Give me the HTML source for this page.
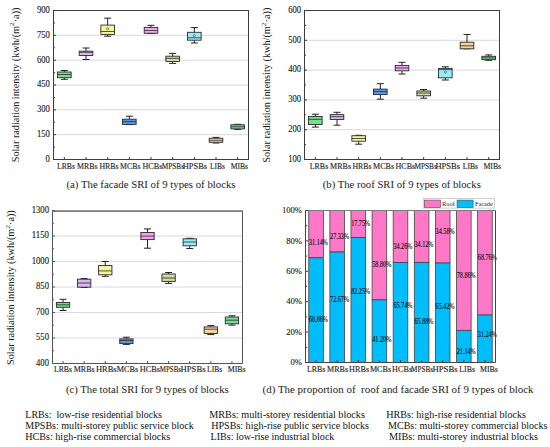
<!DOCTYPE html><html><head><meta charset="utf-8"><style>html,body{margin:0;padding:0;background:#fff;}svg{display:block;}text{font-family:"Liberation Serif",serif;}</style></head><body>
<svg width="550" height="447" viewBox="0 0 550 447">
<rect width="550" height="447" fill="#fff"/>
<line x1="53.5" y1="134.67" x2="248.5" y2="134.67" stroke="#d9d9d9" stroke-width="1"/>
<line x1="53.5" y1="109.83" x2="248.5" y2="109.83" stroke="#d9d9d9" stroke-width="1"/>
<line x1="53.5" y1="85" x2="248.5" y2="85" stroke="#d9d9d9" stroke-width="1"/>
<line x1="53.5" y1="60.17" x2="248.5" y2="60.17" stroke="#d9d9d9" stroke-width="1"/>
<line x1="53.5" y1="35.33" x2="248.5" y2="35.33" stroke="#d9d9d9" stroke-width="1"/>
<line x1="64.33" y1="70.5" x2="64.33" y2="72" stroke="#222" stroke-width="1"/>
<line x1="64.33" y1="77.7" x2="64.33" y2="79.3" stroke="#222" stroke-width="1"/>
<line x1="60.83" y1="70.5" x2="67.83" y2="70.5" stroke="#222" stroke-width="1"/>
<line x1="60.83" y1="79.3" x2="67.83" y2="79.3" stroke="#222" stroke-width="1"/>
<rect x="57.53" y="72" width="13.6" height="5.7" fill="#72e08e" stroke="#2a2a2a" stroke-width="0.9"/>
<line x1="57.53" y1="74.5" x2="71.13" y2="74.5" stroke="#2a2a2a" stroke-width="0.8"/>
<line x1="86" y1="48" x2="86" y2="51.2" stroke="#222" stroke-width="1"/>
<line x1="86" y1="55.5" x2="86" y2="59.5" stroke="#222" stroke-width="1"/>
<line x1="82.5" y1="48" x2="89.5" y2="48" stroke="#222" stroke-width="1"/>
<line x1="82.5" y1="59.5" x2="89.5" y2="59.5" stroke="#222" stroke-width="1"/>
<rect x="79.2" y="51.2" width="13.6" height="4.3" fill="#d9b6f2" stroke="#2a2a2a" stroke-width="0.9"/>
<line x1="79.2" y1="52.3" x2="92.8" y2="52.3" stroke="#2a2a2a" stroke-width="0.8"/>
<line x1="107.67" y1="18.2" x2="107.67" y2="25.1" stroke="#222" stroke-width="1"/>
<line x1="107.67" y1="34.4" x2="107.67" y2="36.2" stroke="#222" stroke-width="1"/>
<line x1="104.17" y1="18.2" x2="111.17" y2="18.2" stroke="#222" stroke-width="1"/>
<line x1="104.17" y1="36.2" x2="111.17" y2="36.2" stroke="#222" stroke-width="1"/>
<rect x="100.87" y="25.1" width="13.6" height="9.3" fill="#f7f49c" stroke="#2a2a2a" stroke-width="0.9"/>
<line x1="100.87" y1="31.5" x2="114.47" y2="31.5" stroke="#2a2a2a" stroke-width="0.8"/>
<circle cx="107.67" cy="28.8" r="1.1" fill="none" stroke="#444" stroke-width="0.6"/>
<line x1="129.33" y1="116.2" x2="129.33" y2="119.2" stroke="#222" stroke-width="1"/>
<line x1="129.33" y1="124.4" x2="129.33" y2="124.6" stroke="#222" stroke-width="1"/>
<line x1="125.83" y1="116.2" x2="132.83" y2="116.2" stroke="#222" stroke-width="1"/>
<line x1="125.83" y1="124.6" x2="132.83" y2="124.6" stroke="#222" stroke-width="1"/>
<rect x="122.53" y="119.2" width="13.6" height="5.2" fill="#5c98ea" stroke="#2a2a2a" stroke-width="0.9"/>
<line x1="122.53" y1="121.6" x2="136.13" y2="121.6" stroke="#2a2a2a" stroke-width="0.8"/>
<line x1="151" y1="25.3" x2="151" y2="27.4" stroke="#222" stroke-width="1"/>
<line x1="151" y1="33.3" x2="151" y2="33.5" stroke="#222" stroke-width="1"/>
<line x1="147.5" y1="25.3" x2="154.5" y2="25.3" stroke="#222" stroke-width="1"/>
<line x1="147.5" y1="33.5" x2="154.5" y2="33.5" stroke="#222" stroke-width="1"/>
<rect x="144.2" y="27.4" width="13.6" height="5.9" fill="#f5a2f3" stroke="#2a2a2a" stroke-width="0.9"/>
<line x1="144.2" y1="30.5" x2="157.8" y2="30.5" stroke="#2a2a2a" stroke-width="0.8"/>
<line x1="172.67" y1="53.4" x2="172.67" y2="56.2" stroke="#222" stroke-width="1"/>
<line x1="172.67" y1="61.5" x2="172.67" y2="63.4" stroke="#222" stroke-width="1"/>
<line x1="169.17" y1="53.4" x2="176.17" y2="53.4" stroke="#222" stroke-width="1"/>
<line x1="169.17" y1="63.4" x2="176.17" y2="63.4" stroke="#222" stroke-width="1"/>
<rect x="165.87" y="56.2" width="13.6" height="5.3" fill="#cddca2" stroke="#2a2a2a" stroke-width="0.9"/>
<line x1="165.87" y1="58.4" x2="179.47" y2="58.4" stroke="#2a2a2a" stroke-width="0.8"/>
<line x1="194.33" y1="27.6" x2="194.33" y2="32.3" stroke="#222" stroke-width="1"/>
<line x1="194.33" y1="40.2" x2="194.33" y2="43" stroke="#222" stroke-width="1"/>
<line x1="190.83" y1="27.6" x2="197.83" y2="27.6" stroke="#222" stroke-width="1"/>
<line x1="190.83" y1="43" x2="197.83" y2="43" stroke="#222" stroke-width="1"/>
<rect x="187.53" y="32.3" width="13.6" height="7.9" fill="#98eef8" stroke="#2a2a2a" stroke-width="0.9"/>
<line x1="187.53" y1="37.8" x2="201.13" y2="37.8" stroke="#2a2a2a" stroke-width="0.8"/>
<circle cx="194.33" cy="35.6" r="1.1" fill="none" stroke="#444" stroke-width="0.6"/>
<line x1="216" y1="137.4" x2="216" y2="138.2" stroke="#222" stroke-width="1"/>
<line x1="216" y1="142.3" x2="216" y2="143" stroke="#222" stroke-width="1"/>
<line x1="212.5" y1="137.4" x2="219.5" y2="137.4" stroke="#222" stroke-width="1"/>
<line x1="212.5" y1="143" x2="219.5" y2="143" stroke="#222" stroke-width="1"/>
<rect x="209.2" y="138.2" width="13.6" height="4.1" fill="#f8d09c" stroke="#2a2a2a" stroke-width="0.9"/>
<line x1="209.2" y1="140.3" x2="222.8" y2="140.3" stroke="#2a2a2a" stroke-width="0.8"/>
<line x1="237.67" y1="124.3" x2="237.67" y2="124.8" stroke="#222" stroke-width="1"/>
<line x1="237.67" y1="128.9" x2="237.67" y2="129.4" stroke="#222" stroke-width="1"/>
<line x1="234.17" y1="124.3" x2="241.17" y2="124.3" stroke="#222" stroke-width="1"/>
<line x1="234.17" y1="129.4" x2="241.17" y2="129.4" stroke="#222" stroke-width="1"/>
<rect x="230.87" y="124.8" width="13.6" height="4.1" fill="#72e08e" stroke="#2a2a2a" stroke-width="0.9"/>
<line x1="230.87" y1="126.8" x2="244.47" y2="126.8" stroke="#2a2a2a" stroke-width="0.8"/>
<rect x="53.5" y="10.5" width="195" height="149" fill="none" stroke="#3c3c3c" stroke-width="1"/>
<line x1="53.5" y1="159.5" x2="56" y2="159.5" stroke="#3c3c3c" stroke-width="1"/>
<text x="49.9" y="161.9" font-size="9.3" text-anchor="end" fill="#1a1a1a" stroke="#1a1a1a" stroke-width="0.12" textLength="4.33" lengthAdjust="spacingAndGlyphs">0</text>
<line x1="53.5" y1="134.67" x2="56" y2="134.67" stroke="#3c3c3c" stroke-width="1"/>
<text x="49.9" y="137.07" font-size="9.3" text-anchor="end" fill="#1a1a1a" stroke="#1a1a1a" stroke-width="0.12" textLength="12.99" lengthAdjust="spacingAndGlyphs">150</text>
<line x1="53.5" y1="109.83" x2="56" y2="109.83" stroke="#3c3c3c" stroke-width="1"/>
<text x="49.9" y="112.23" font-size="9.3" text-anchor="end" fill="#1a1a1a" stroke="#1a1a1a" stroke-width="0.12" textLength="12.99" lengthAdjust="spacingAndGlyphs">300</text>
<line x1="53.5" y1="85" x2="56" y2="85" stroke="#3c3c3c" stroke-width="1"/>
<text x="49.9" y="87.4" font-size="9.3" text-anchor="end" fill="#1a1a1a" stroke="#1a1a1a" stroke-width="0.12" textLength="12.99" lengthAdjust="spacingAndGlyphs">450</text>
<line x1="53.5" y1="60.17" x2="56" y2="60.17" stroke="#3c3c3c" stroke-width="1"/>
<text x="49.9" y="62.57" font-size="9.3" text-anchor="end" fill="#1a1a1a" stroke="#1a1a1a" stroke-width="0.12" textLength="12.99" lengthAdjust="spacingAndGlyphs">600</text>
<line x1="53.5" y1="35.33" x2="56" y2="35.33" stroke="#3c3c3c" stroke-width="1"/>
<text x="49.9" y="37.73" font-size="9.3" text-anchor="end" fill="#1a1a1a" stroke="#1a1a1a" stroke-width="0.12" textLength="12.99" lengthAdjust="spacingAndGlyphs">750</text>
<line x1="53.5" y1="10.5" x2="56" y2="10.5" stroke="#3c3c3c" stroke-width="1"/>
<text x="49.9" y="12.9" font-size="9.3" text-anchor="end" fill="#1a1a1a" stroke="#1a1a1a" stroke-width="0.12" textLength="12.99" lengthAdjust="spacingAndGlyphs">900</text>
<line x1="53.5" y1="147.08" x2="55" y2="147.08" stroke="#3c3c3c" stroke-width="1"/>
<line x1="53.5" y1="122.25" x2="55" y2="122.25" stroke="#3c3c3c" stroke-width="1"/>
<line x1="53.5" y1="97.42" x2="55" y2="97.42" stroke="#3c3c3c" stroke-width="1"/>
<line x1="53.5" y1="72.58" x2="55" y2="72.58" stroke="#3c3c3c" stroke-width="1"/>
<line x1="53.5" y1="47.75" x2="55" y2="47.75" stroke="#3c3c3c" stroke-width="1"/>
<line x1="53.5" y1="22.92" x2="55" y2="22.92" stroke="#3c3c3c" stroke-width="1"/>
<line x1="64.33" y1="159.5" x2="64.33" y2="157" stroke="#3c3c3c" stroke-width="1"/>
<line x1="86" y1="159.5" x2="86" y2="157" stroke="#3c3c3c" stroke-width="1"/>
<line x1="107.67" y1="159.5" x2="107.67" y2="157" stroke="#3c3c3c" stroke-width="1"/>
<line x1="129.33" y1="159.5" x2="129.33" y2="157" stroke="#3c3c3c" stroke-width="1"/>
<line x1="151" y1="159.5" x2="151" y2="157" stroke="#3c3c3c" stroke-width="1"/>
<line x1="172.67" y1="159.5" x2="172.67" y2="157" stroke="#3c3c3c" stroke-width="1"/>
<line x1="194.33" y1="159.5" x2="194.33" y2="157" stroke="#3c3c3c" stroke-width="1"/>
<line x1="216" y1="159.5" x2="216" y2="157" stroke="#3c3c3c" stroke-width="1"/>
<line x1="237.67" y1="159.5" x2="237.67" y2="157" stroke="#3c3c3c" stroke-width="1"/>
<text x="56.9" y="168.6" font-size="7.8" text-anchor="start" fill="#222" stroke="#222" stroke-width="0.12" textLength="18.2" lengthAdjust="spacingAndGlyphs">LRBs</text>
<text x="77.1" y="168.6" font-size="7.8" text-anchor="start" fill="#222" stroke="#222" stroke-width="0.12" textLength="20.5" lengthAdjust="spacingAndGlyphs">MRBs</text>
<text x="99.4" y="168.6" font-size="7.8" text-anchor="start" fill="#222" stroke="#222" stroke-width="0.12" textLength="19.2" lengthAdjust="spacingAndGlyphs">HRBs</text>
<text x="120.1" y="168.6" font-size="7.8" text-anchor="start" fill="#222" stroke="#222" stroke-width="0.12" textLength="20.5" lengthAdjust="spacingAndGlyphs">MCBs</text>
<text x="142.4" y="168.6" font-size="7.8" text-anchor="start" fill="#222" stroke="#222" stroke-width="0.12" textLength="20" lengthAdjust="spacingAndGlyphs">HCBs</text>
<text x="161.7" y="168.6" font-size="7.8" text-anchor="start" fill="#222" stroke="#222" stroke-width="0.12" textLength="22.4" lengthAdjust="spacingAndGlyphs">MPSBs</text>
<text x="182.7" y="168.6" font-size="7.8" text-anchor="start" fill="#222" stroke="#222" stroke-width="0.12" textLength="24.4" lengthAdjust="spacingAndGlyphs">HPSBs</text>
<text x="209.9" y="168.6" font-size="7.8" text-anchor="start" fill="#222" stroke="#222" stroke-width="0.12" textLength="15.2" lengthAdjust="spacingAndGlyphs">LIBs</text>
<text x="230.7" y="168.6" font-size="7.8" text-anchor="start" fill="#222" stroke="#222" stroke-width="0.12" textLength="17.4" lengthAdjust="spacingAndGlyphs">MIBs</text>
<text transform="translate(18.6,162.3) rotate(-90)" font-size="9.7" fill="#1a1a1a" textLength="154.8" lengthAdjust="spacingAndGlyphs">Solar radiation intensity (kwh/(m<tspan font-size="7" dy="-4.2">2</tspan><tspan dy="4.2">·a))</tspan></text>
<text x="151" y="188.1" font-size="10.7" text-anchor="middle" fill="#222" textLength="169" lengthAdjust="spacingAndGlyphs">(a) The facade SRI of 9 types of blocks</text>
<line x1="304.5" y1="129.7" x2="499.5" y2="129.7" stroke="#d9d9d9" stroke-width="1"/>
<line x1="304.5" y1="99.9" x2="499.5" y2="99.9" stroke="#d9d9d9" stroke-width="1"/>
<line x1="304.5" y1="70.1" x2="499.5" y2="70.1" stroke="#d9d9d9" stroke-width="1"/>
<line x1="304.5" y1="40.3" x2="499.5" y2="40.3" stroke="#d9d9d9" stroke-width="1"/>
<line x1="315.33" y1="114.2" x2="315.33" y2="116.5" stroke="#222" stroke-width="1"/>
<line x1="315.33" y1="124.5" x2="315.33" y2="127.1" stroke="#222" stroke-width="1"/>
<line x1="311.83" y1="114.2" x2="318.83" y2="114.2" stroke="#222" stroke-width="1"/>
<line x1="311.83" y1="127.1" x2="318.83" y2="127.1" stroke="#222" stroke-width="1"/>
<rect x="308.53" y="116.5" width="13.6" height="8" fill="#72e08e" stroke="#2a2a2a" stroke-width="0.9"/>
<line x1="308.53" y1="119.3" x2="322.13" y2="119.3" stroke="#2a2a2a" stroke-width="0.8"/>
<line x1="337" y1="112.3" x2="337" y2="114.6" stroke="#222" stroke-width="1"/>
<line x1="337" y1="119.5" x2="337" y2="125.2" stroke="#222" stroke-width="1"/>
<line x1="333.5" y1="112.3" x2="340.5" y2="112.3" stroke="#222" stroke-width="1"/>
<line x1="333.5" y1="125.2" x2="340.5" y2="125.2" stroke="#222" stroke-width="1"/>
<rect x="330.2" y="114.6" width="13.6" height="4.9" fill="#d9b6f2" stroke="#2a2a2a" stroke-width="0.9"/>
<line x1="330.2" y1="116.7" x2="343.8" y2="116.7" stroke="#2a2a2a" stroke-width="0.8"/>
<line x1="358.67" y1="135.3" x2="358.67" y2="135.7" stroke="#222" stroke-width="1"/>
<line x1="358.67" y1="141.2" x2="358.67" y2="144.2" stroke="#222" stroke-width="1"/>
<line x1="355.17" y1="135.3" x2="362.17" y2="135.3" stroke="#222" stroke-width="1"/>
<line x1="355.17" y1="144.2" x2="362.17" y2="144.2" stroke="#222" stroke-width="1"/>
<rect x="351.87" y="135.7" width="13.6" height="5.5" fill="#f7f49c" stroke="#2a2a2a" stroke-width="0.9"/>
<line x1="351.87" y1="138.5" x2="365.47" y2="138.5" stroke="#2a2a2a" stroke-width="0.8"/>
<line x1="380.33" y1="83.7" x2="380.33" y2="89.1" stroke="#222" stroke-width="1"/>
<line x1="380.33" y1="94.6" x2="380.33" y2="99.2" stroke="#222" stroke-width="1"/>
<line x1="376.83" y1="83.7" x2="383.83" y2="83.7" stroke="#222" stroke-width="1"/>
<line x1="376.83" y1="99.2" x2="383.83" y2="99.2" stroke="#222" stroke-width="1"/>
<rect x="373.53" y="89.1" width="13.6" height="5.5" fill="#5c98ea" stroke="#2a2a2a" stroke-width="0.9"/>
<line x1="373.53" y1="91.6" x2="387.13" y2="91.6" stroke="#2a2a2a" stroke-width="0.8"/>
<line x1="402" y1="62.3" x2="402" y2="65.4" stroke="#222" stroke-width="1"/>
<line x1="402" y1="70.8" x2="402" y2="74" stroke="#222" stroke-width="1"/>
<line x1="398.5" y1="62.3" x2="405.5" y2="62.3" stroke="#222" stroke-width="1"/>
<line x1="398.5" y1="74" x2="405.5" y2="74" stroke="#222" stroke-width="1"/>
<rect x="395.2" y="65.4" width="13.6" height="5.4" fill="#f5a2f3" stroke="#2a2a2a" stroke-width="0.9"/>
<line x1="395.2" y1="68" x2="408.8" y2="68" stroke="#2a2a2a" stroke-width="0.8"/>
<line x1="423.67" y1="89.5" x2="423.67" y2="91" stroke="#222" stroke-width="1"/>
<line x1="423.67" y1="95.8" x2="423.67" y2="98.2" stroke="#222" stroke-width="1"/>
<line x1="420.17" y1="89.5" x2="427.17" y2="89.5" stroke="#222" stroke-width="1"/>
<line x1="420.17" y1="98.2" x2="427.17" y2="98.2" stroke="#222" stroke-width="1"/>
<rect x="416.87" y="91" width="13.6" height="4.8" fill="#cddca2" stroke="#2a2a2a" stroke-width="0.9"/>
<line x1="416.87" y1="93" x2="430.47" y2="93" stroke="#2a2a2a" stroke-width="0.8"/>
<line x1="445.33" y1="66.8" x2="445.33" y2="68.4" stroke="#222" stroke-width="1"/>
<line x1="445.33" y1="77.8" x2="445.33" y2="80" stroke="#222" stroke-width="1"/>
<line x1="441.83" y1="66.8" x2="448.83" y2="66.8" stroke="#222" stroke-width="1"/>
<line x1="441.83" y1="80" x2="448.83" y2="80" stroke="#222" stroke-width="1"/>
<rect x="438.53" y="68.4" width="13.6" height="9.4" fill="#98eef8" stroke="#2a2a2a" stroke-width="0.9"/>
<line x1="438.53" y1="69.6" x2="452.13" y2="69.6" stroke="#2a2a2a" stroke-width="0.8"/>
<circle cx="445.33" cy="72" r="1.1" fill="none" stroke="#444" stroke-width="0.6"/>
<line x1="467" y1="34.5" x2="467" y2="42.2" stroke="#222" stroke-width="1"/>
<line x1="467" y1="48.8" x2="467" y2="48.8" stroke="#222" stroke-width="1"/>
<line x1="463.5" y1="34.5" x2="470.5" y2="34.5" stroke="#222" stroke-width="1"/>
<line x1="463.5" y1="48.8" x2="470.5" y2="48.8" stroke="#222" stroke-width="1"/>
<rect x="460.2" y="42.2" width="13.6" height="6.6" fill="#f8d09c" stroke="#2a2a2a" stroke-width="0.9"/>
<line x1="460.2" y1="45.8" x2="473.8" y2="45.8" stroke="#2a2a2a" stroke-width="0.8"/>
<line x1="488.67" y1="54.9" x2="488.67" y2="56.3" stroke="#222" stroke-width="1"/>
<line x1="488.67" y1="59.7" x2="488.67" y2="60.3" stroke="#222" stroke-width="1"/>
<line x1="485.17" y1="54.9" x2="492.17" y2="54.9" stroke="#222" stroke-width="1"/>
<line x1="485.17" y1="60.3" x2="492.17" y2="60.3" stroke="#222" stroke-width="1"/>
<rect x="481.87" y="56.3" width="13.6" height="3.4" fill="#72e08e" stroke="#2a2a2a" stroke-width="0.9"/>
<line x1="481.87" y1="57.9" x2="495.47" y2="57.9" stroke="#2a2a2a" stroke-width="0.8"/>
<rect x="304.5" y="10.5" width="195" height="149" fill="none" stroke="#3c3c3c" stroke-width="1"/>
<line x1="304.5" y1="159.5" x2="307" y2="159.5" stroke="#3c3c3c" stroke-width="1"/>
<text x="301.2" y="161.8" font-size="9.3" text-anchor="end" fill="#1a1a1a" stroke="#1a1a1a" stroke-width="0.12" textLength="12.99" lengthAdjust="spacingAndGlyphs">100</text>
<line x1="304.5" y1="129.7" x2="307" y2="129.7" stroke="#3c3c3c" stroke-width="1"/>
<text x="301.2" y="132" font-size="9.3" text-anchor="end" fill="#1a1a1a" stroke="#1a1a1a" stroke-width="0.12" textLength="12.99" lengthAdjust="spacingAndGlyphs">200</text>
<line x1="304.5" y1="99.9" x2="307" y2="99.9" stroke="#3c3c3c" stroke-width="1"/>
<text x="301.2" y="102.2" font-size="9.3" text-anchor="end" fill="#1a1a1a" stroke="#1a1a1a" stroke-width="0.12" textLength="12.99" lengthAdjust="spacingAndGlyphs">300</text>
<line x1="304.5" y1="70.1" x2="307" y2="70.1" stroke="#3c3c3c" stroke-width="1"/>
<text x="301.2" y="72.4" font-size="9.3" text-anchor="end" fill="#1a1a1a" stroke="#1a1a1a" stroke-width="0.12" textLength="12.99" lengthAdjust="spacingAndGlyphs">400</text>
<line x1="304.5" y1="40.3" x2="307" y2="40.3" stroke="#3c3c3c" stroke-width="1"/>
<text x="301.2" y="42.6" font-size="9.3" text-anchor="end" fill="#1a1a1a" stroke="#1a1a1a" stroke-width="0.12" textLength="12.99" lengthAdjust="spacingAndGlyphs">500</text>
<line x1="304.5" y1="10.5" x2="307" y2="10.5" stroke="#3c3c3c" stroke-width="1"/>
<text x="301.2" y="12.8" font-size="9.3" text-anchor="end" fill="#1a1a1a" stroke="#1a1a1a" stroke-width="0.12" textLength="12.99" lengthAdjust="spacingAndGlyphs">600</text>
<line x1="304.5" y1="144.6" x2="306" y2="144.6" stroke="#3c3c3c" stroke-width="1"/>
<line x1="304.5" y1="114.8" x2="306" y2="114.8" stroke="#3c3c3c" stroke-width="1"/>
<line x1="304.5" y1="85" x2="306" y2="85" stroke="#3c3c3c" stroke-width="1"/>
<line x1="304.5" y1="55.2" x2="306" y2="55.2" stroke="#3c3c3c" stroke-width="1"/>
<line x1="304.5" y1="25.4" x2="306" y2="25.4" stroke="#3c3c3c" stroke-width="1"/>
<line x1="315.33" y1="159.5" x2="315.33" y2="157" stroke="#3c3c3c" stroke-width="1"/>
<line x1="337" y1="159.5" x2="337" y2="157" stroke="#3c3c3c" stroke-width="1"/>
<line x1="358.67" y1="159.5" x2="358.67" y2="157" stroke="#3c3c3c" stroke-width="1"/>
<line x1="380.33" y1="159.5" x2="380.33" y2="157" stroke="#3c3c3c" stroke-width="1"/>
<line x1="402" y1="159.5" x2="402" y2="157" stroke="#3c3c3c" stroke-width="1"/>
<line x1="423.67" y1="159.5" x2="423.67" y2="157" stroke="#3c3c3c" stroke-width="1"/>
<line x1="445.33" y1="159.5" x2="445.33" y2="157" stroke="#3c3c3c" stroke-width="1"/>
<line x1="467" y1="159.5" x2="467" y2="157" stroke="#3c3c3c" stroke-width="1"/>
<line x1="488.67" y1="159.5" x2="488.67" y2="157" stroke="#3c3c3c" stroke-width="1"/>
<text x="309.7" y="168.6" font-size="7.8" text-anchor="start" fill="#222" stroke="#222" stroke-width="0.12" textLength="18.6" lengthAdjust="spacingAndGlyphs">LRBs</text>
<text x="330.1" y="168.6" font-size="7.8" text-anchor="start" fill="#222" stroke="#222" stroke-width="0.12" textLength="21" lengthAdjust="spacingAndGlyphs">MRBs</text>
<text x="352.4" y="168.6" font-size="7.8" text-anchor="start" fill="#222" stroke="#222" stroke-width="0.12" textLength="19.2" lengthAdjust="spacingAndGlyphs">HRBs</text>
<text x="373.1" y="168.6" font-size="7.8" text-anchor="start" fill="#222" stroke="#222" stroke-width="0.12" textLength="21" lengthAdjust="spacingAndGlyphs">MCBs</text>
<text x="395.4" y="168.6" font-size="7.8" text-anchor="start" fill="#222" stroke="#222" stroke-width="0.12" textLength="19.9" lengthAdjust="spacingAndGlyphs">HCBs</text>
<text x="414.4" y="168.6" font-size="7.8" text-anchor="start" fill="#222" stroke="#222" stroke-width="0.12" textLength="22.5" lengthAdjust="spacingAndGlyphs">MPSBs</text>
<text x="435.4" y="168.6" font-size="7.8" text-anchor="start" fill="#222" stroke="#222" stroke-width="0.12" textLength="24.7" lengthAdjust="spacingAndGlyphs">HPSBs</text>
<text x="462.7" y="168.6" font-size="7.8" text-anchor="start" fill="#222" stroke="#222" stroke-width="0.12" textLength="15.4" lengthAdjust="spacingAndGlyphs">LIBs</text>
<text x="483.4" y="168.6" font-size="7.8" text-anchor="start" fill="#222" stroke="#222" stroke-width="0.12" textLength="17.7" lengthAdjust="spacingAndGlyphs">MIBs</text>
<text transform="translate(270.3,162.8) rotate(-90)" font-size="9.7" fill="#1a1a1a" textLength="155.2" lengthAdjust="spacingAndGlyphs">Solar radiation intensity (kwh/(m<tspan font-size="7" dy="-4.2">2</tspan><tspan dy="4.2">·a))</tspan></text>
<text x="401.8" y="188.3" font-size="10.7" text-anchor="middle" fill="#222" textLength="158" lengthAdjust="spacingAndGlyphs">(b) The roof SRI of 9 types of blocks</text>
<line x1="52.5" y1="338" x2="242.5" y2="338" stroke="#d9d9d9" stroke-width="1"/>
<line x1="52.5" y1="312.5" x2="242.5" y2="312.5" stroke="#d9d9d9" stroke-width="1"/>
<line x1="52.5" y1="287" x2="242.5" y2="287" stroke="#d9d9d9" stroke-width="1"/>
<line x1="52.5" y1="261.5" x2="242.5" y2="261.5" stroke="#d9d9d9" stroke-width="1"/>
<line x1="52.5" y1="236" x2="242.5" y2="236" stroke="#d9d9d9" stroke-width="1"/>
<line x1="63.06" y1="299.3" x2="63.06" y2="302.5" stroke="#222" stroke-width="1"/>
<line x1="63.06" y1="307.3" x2="63.06" y2="310.5" stroke="#222" stroke-width="1"/>
<line x1="59.56" y1="299.3" x2="66.56" y2="299.3" stroke="#222" stroke-width="1"/>
<line x1="59.56" y1="310.5" x2="66.56" y2="310.5" stroke="#222" stroke-width="1"/>
<rect x="56.41" y="302.5" width="13.3" height="4.8" fill="#72e08e" stroke="#2a2a2a" stroke-width="0.9"/>
<line x1="56.41" y1="304.8" x2="69.71" y2="304.8" stroke="#2a2a2a" stroke-width="0.8"/>
<line x1="84.17" y1="278.6" x2="84.17" y2="279.2" stroke="#222" stroke-width="1"/>
<line x1="84.17" y1="287.2" x2="84.17" y2="287.5" stroke="#222" stroke-width="1"/>
<line x1="80.67" y1="278.6" x2="87.67" y2="278.6" stroke="#222" stroke-width="1"/>
<line x1="80.67" y1="287.5" x2="87.67" y2="287.5" stroke="#222" stroke-width="1"/>
<rect x="77.52" y="279.2" width="13.3" height="8" fill="#d9b6f2" stroke="#2a2a2a" stroke-width="0.9"/>
<line x1="77.52" y1="283" x2="90.82" y2="283" stroke="#2a2a2a" stroke-width="0.8"/>
<line x1="105.28" y1="261.5" x2="105.28" y2="265.5" stroke="#222" stroke-width="1"/>
<line x1="105.28" y1="274.8" x2="105.28" y2="276.3" stroke="#222" stroke-width="1"/>
<line x1="101.78" y1="261.5" x2="108.78" y2="261.5" stroke="#222" stroke-width="1"/>
<line x1="101.78" y1="276.3" x2="108.78" y2="276.3" stroke="#222" stroke-width="1"/>
<rect x="98.63" y="265.5" width="13.3" height="9.3" fill="#f7f49c" stroke="#2a2a2a" stroke-width="0.9"/>
<line x1="98.63" y1="270.9" x2="111.93" y2="270.9" stroke="#2a2a2a" stroke-width="0.8"/>
<line x1="126.39" y1="337.2" x2="126.39" y2="338.9" stroke="#222" stroke-width="1"/>
<line x1="126.39" y1="343.6" x2="126.39" y2="344.4" stroke="#222" stroke-width="1"/>
<line x1="122.89" y1="337.2" x2="129.89" y2="337.2" stroke="#222" stroke-width="1"/>
<line x1="122.89" y1="344.4" x2="129.89" y2="344.4" stroke="#222" stroke-width="1"/>
<rect x="119.74" y="338.9" width="13.3" height="4.7" fill="#5c98ea" stroke="#2a2a2a" stroke-width="0.9"/>
<line x1="119.74" y1="340.6" x2="133.04" y2="340.6" stroke="#2a2a2a" stroke-width="0.8"/>
<line x1="147.5" y1="228.9" x2="147.5" y2="232.5" stroke="#222" stroke-width="1"/>
<line x1="147.5" y1="239.6" x2="147.5" y2="248.2" stroke="#222" stroke-width="1"/>
<line x1="144" y1="228.9" x2="151" y2="228.9" stroke="#222" stroke-width="1"/>
<line x1="144" y1="248.2" x2="151" y2="248.2" stroke="#222" stroke-width="1"/>
<rect x="140.85" y="232.5" width="13.3" height="7.1" fill="#f5a2f3" stroke="#2a2a2a" stroke-width="0.9"/>
<line x1="140.85" y1="236.1" x2="154.15" y2="236.1" stroke="#2a2a2a" stroke-width="0.8"/>
<line x1="168.61" y1="272.5" x2="168.61" y2="274" stroke="#222" stroke-width="1"/>
<line x1="168.61" y1="281.4" x2="168.61" y2="283.4" stroke="#222" stroke-width="1"/>
<line x1="165.11" y1="272.5" x2="172.11" y2="272.5" stroke="#222" stroke-width="1"/>
<line x1="165.11" y1="283.4" x2="172.11" y2="283.4" stroke="#222" stroke-width="1"/>
<rect x="161.96" y="274" width="13.3" height="7.4" fill="#cddca2" stroke="#2a2a2a" stroke-width="0.9"/>
<line x1="161.96" y1="278" x2="175.26" y2="278" stroke="#2a2a2a" stroke-width="0.8"/>
<line x1="189.72" y1="238.3" x2="189.72" y2="238.8" stroke="#222" stroke-width="1"/>
<line x1="189.72" y1="245.8" x2="189.72" y2="248.5" stroke="#222" stroke-width="1"/>
<line x1="186.22" y1="238.3" x2="193.22" y2="238.3" stroke="#222" stroke-width="1"/>
<line x1="186.22" y1="248.5" x2="193.22" y2="248.5" stroke="#222" stroke-width="1"/>
<rect x="183.07" y="238.8" width="13.3" height="7" fill="#98eef8" stroke="#2a2a2a" stroke-width="0.9"/>
<line x1="183.07" y1="242" x2="196.37" y2="242" stroke="#2a2a2a" stroke-width="0.8"/>
<line x1="210.83" y1="325.6" x2="210.83" y2="326.9" stroke="#222" stroke-width="1"/>
<line x1="210.83" y1="333.5" x2="210.83" y2="334.6" stroke="#222" stroke-width="1"/>
<line x1="207.33" y1="325.6" x2="214.33" y2="325.6" stroke="#222" stroke-width="1"/>
<line x1="207.33" y1="334.6" x2="214.33" y2="334.6" stroke="#222" stroke-width="1"/>
<rect x="204.18" y="326.9" width="13.3" height="6.6" fill="#f8d09c" stroke="#2a2a2a" stroke-width="0.9"/>
<line x1="204.18" y1="329.2" x2="217.48" y2="329.2" stroke="#2a2a2a" stroke-width="0.8"/>
<line x1="231.94" y1="315.8" x2="231.94" y2="317" stroke="#222" stroke-width="1"/>
<line x1="231.94" y1="323.8" x2="231.94" y2="325.1" stroke="#222" stroke-width="1"/>
<line x1="228.44" y1="315.8" x2="235.44" y2="315.8" stroke="#222" stroke-width="1"/>
<line x1="228.44" y1="325.1" x2="235.44" y2="325.1" stroke="#222" stroke-width="1"/>
<rect x="225.29" y="317" width="13.3" height="6.8" fill="#72e08e" stroke="#2a2a2a" stroke-width="0.9"/>
<line x1="225.29" y1="320.2" x2="238.59" y2="320.2" stroke="#2a2a2a" stroke-width="0.8"/>
<path d="M52.5 210.5V363.5H242.5V210.5" fill="none" stroke="#555" stroke-width="1"/>
<line x1="52" y1="211.2" x2="243" y2="211.2" stroke="#7a7a7a" stroke-width="1.7"/>
<line x1="52.5" y1="363.5" x2="55" y2="363.5" stroke="#555" stroke-width="1"/>
<text x="49" y="365.7" font-size="9.3" text-anchor="end" fill="#1a1a1a" stroke="#1a1a1a" stroke-width="0.12" textLength="12.99" lengthAdjust="spacingAndGlyphs">400</text>
<line x1="52.5" y1="338" x2="55" y2="338" stroke="#555" stroke-width="1"/>
<text x="49" y="340.2" font-size="9.3" text-anchor="end" fill="#1a1a1a" stroke="#1a1a1a" stroke-width="0.12" textLength="12.99" lengthAdjust="spacingAndGlyphs">550</text>
<line x1="52.5" y1="312.5" x2="55" y2="312.5" stroke="#555" stroke-width="1"/>
<text x="49" y="314.7" font-size="9.3" text-anchor="end" fill="#1a1a1a" stroke="#1a1a1a" stroke-width="0.12" textLength="12.99" lengthAdjust="spacingAndGlyphs">700</text>
<line x1="52.5" y1="287" x2="55" y2="287" stroke="#555" stroke-width="1"/>
<text x="49" y="289.2" font-size="9.3" text-anchor="end" fill="#1a1a1a" stroke="#1a1a1a" stroke-width="0.12" textLength="12.99" lengthAdjust="spacingAndGlyphs">850</text>
<line x1="52.5" y1="261.5" x2="55" y2="261.5" stroke="#555" stroke-width="1"/>
<text x="49" y="263.7" font-size="9.3" text-anchor="end" fill="#1a1a1a" stroke="#1a1a1a" stroke-width="0.12" textLength="17.32" lengthAdjust="spacingAndGlyphs">1000</text>
<line x1="52.5" y1="236" x2="55" y2="236" stroke="#555" stroke-width="1"/>
<text x="49" y="238.2" font-size="9.3" text-anchor="end" fill="#1a1a1a" stroke="#1a1a1a" stroke-width="0.12" textLength="17.32" lengthAdjust="spacingAndGlyphs">1150</text>
<line x1="52.5" y1="210.5" x2="55" y2="210.5" stroke="#555" stroke-width="1"/>
<text x="49" y="212.7" font-size="9.3" text-anchor="end" fill="#1a1a1a" stroke="#1a1a1a" stroke-width="0.12" textLength="17.32" lengthAdjust="spacingAndGlyphs">1300</text>
<line x1="52.5" y1="350.75" x2="54" y2="350.75" stroke="#555" stroke-width="1"/>
<line x1="52.5" y1="325.25" x2="54" y2="325.25" stroke="#555" stroke-width="1"/>
<line x1="52.5" y1="299.75" x2="54" y2="299.75" stroke="#555" stroke-width="1"/>
<line x1="52.5" y1="274.25" x2="54" y2="274.25" stroke="#555" stroke-width="1"/>
<line x1="52.5" y1="248.75" x2="54" y2="248.75" stroke="#555" stroke-width="1"/>
<line x1="52.5" y1="223.25" x2="54" y2="223.25" stroke="#555" stroke-width="1"/>
<line x1="63.06" y1="363.5" x2="63.06" y2="361" stroke="#555" stroke-width="1"/>
<line x1="84.17" y1="363.5" x2="84.17" y2="361" stroke="#555" stroke-width="1"/>
<line x1="105.28" y1="363.5" x2="105.28" y2="361" stroke="#555" stroke-width="1"/>
<line x1="126.39" y1="363.5" x2="126.39" y2="361" stroke="#555" stroke-width="1"/>
<line x1="147.5" y1="363.5" x2="147.5" y2="361" stroke="#555" stroke-width="1"/>
<line x1="168.61" y1="363.5" x2="168.61" y2="361" stroke="#555" stroke-width="1"/>
<line x1="189.72" y1="363.5" x2="189.72" y2="361" stroke="#555" stroke-width="1"/>
<line x1="210.83" y1="363.5" x2="210.83" y2="361" stroke="#555" stroke-width="1"/>
<line x1="231.94" y1="363.5" x2="231.94" y2="361" stroke="#555" stroke-width="1"/>
<text x="53.9" y="372.3" font-size="7.8" text-anchor="start" fill="#222" stroke="#222" stroke-width="0.12" textLength="18.2" lengthAdjust="spacingAndGlyphs">LRBs</text>
<text x="73.7" y="372.3" font-size="7.8" text-anchor="start" fill="#222" stroke="#222" stroke-width="0.12" textLength="20.9" lengthAdjust="spacingAndGlyphs">MRBs</text>
<text x="95.9" y="372.3" font-size="7.8" text-anchor="start" fill="#222" stroke="#222" stroke-width="0.12" textLength="20.7" lengthAdjust="spacingAndGlyphs">HRBs</text>
<text x="116.7" y="372.3" font-size="7.8" text-anchor="start" fill="#222" stroke="#222" stroke-width="0.12" textLength="21.4" lengthAdjust="spacingAndGlyphs">MCBs</text>
<text x="139.7" y="372.3" font-size="7.8" text-anchor="start" fill="#222" stroke="#222" stroke-width="0.12" textLength="20.4" lengthAdjust="spacingAndGlyphs">HCBs</text>
<text x="159.7" y="372.3" font-size="7.8" text-anchor="start" fill="#222" stroke="#222" stroke-width="0.12" textLength="21.4" lengthAdjust="spacingAndGlyphs">MPSBs</text>
<text x="180.4" y="372.3" font-size="7.8" text-anchor="start" fill="#222" stroke="#222" stroke-width="0.12" textLength="25.2" lengthAdjust="spacingAndGlyphs">HPSBs</text>
<text x="207.1" y="372.3" font-size="7.8" text-anchor="start" fill="#222" stroke="#222" stroke-width="0.12" textLength="15.2" lengthAdjust="spacingAndGlyphs">LIBs</text>
<text x="227.7" y="372.3" font-size="7.8" text-anchor="start" fill="#222" stroke="#222" stroke-width="0.12" textLength="17.9" lengthAdjust="spacingAndGlyphs">MIBs</text>
<text transform="translate(14.3,365) rotate(-90)" font-size="9.7" fill="#1a1a1a" textLength="154.8" lengthAdjust="spacingAndGlyphs">Solar radiation intensity (kwh/(m<tspan font-size="7" dy="-4.2">2</tspan><tspan dy="4.2">·a))</tspan></text>
<text x="65.9" y="393" font-size="10.7" text-anchor="start" fill="#222" textLength="162.8" lengthAdjust="spacingAndGlyphs">(c) The total SRI for 9 types of blocks</text>
<rect x="308.76" y="210.5" width="14.6" height="47.33" fill="#ff78c8" stroke="#444" stroke-width="0.8"/>
<rect x="308.76" y="257.83" width="14.6" height="104.67" fill="#00befc" stroke="#444" stroke-width="0.8"/>
<rect x="329.87" y="210.5" width="14.6" height="41.54" fill="#ff78c8" stroke="#444" stroke-width="0.8"/>
<rect x="329.87" y="252.04" width="14.6" height="110.46" fill="#00befc" stroke="#444" stroke-width="0.8"/>
<rect x="350.98" y="210.5" width="14.6" height="26.98" fill="#ff78c8" stroke="#444" stroke-width="0.8"/>
<rect x="350.98" y="237.48" width="14.6" height="125.02" fill="#00befc" stroke="#444" stroke-width="0.8"/>
<rect x="372.09" y="210.5" width="14.6" height="89.38" fill="#ff78c8" stroke="#444" stroke-width="0.8"/>
<rect x="372.09" y="299.88" width="14.6" height="62.62" fill="#00befc" stroke="#444" stroke-width="0.8"/>
<rect x="393.2" y="210.5" width="14.6" height="52.08" fill="#ff78c8" stroke="#444" stroke-width="0.8"/>
<rect x="393.2" y="262.58" width="14.6" height="99.92" fill="#00befc" stroke="#444" stroke-width="0.8"/>
<rect x="414.31" y="210.5" width="14.6" height="51.86" fill="#ff78c8" stroke="#444" stroke-width="0.8"/>
<rect x="414.31" y="262.36" width="14.6" height="100.14" fill="#00befc" stroke="#444" stroke-width="0.8"/>
<rect x="435.42" y="210.5" width="14.6" height="52.56" fill="#ff78c8" stroke="#444" stroke-width="0.8"/>
<rect x="435.42" y="263.06" width="14.6" height="99.44" fill="#00befc" stroke="#444" stroke-width="0.8"/>
<rect x="456.53" y="210.5" width="14.6" height="119.87" fill="#ff78c8" stroke="#444" stroke-width="0.8"/>
<rect x="456.53" y="330.37" width="14.6" height="32.13" fill="#00befc" stroke="#444" stroke-width="0.8"/>
<rect x="477.64" y="210.5" width="14.6" height="104.52" fill="#ff78c8" stroke="#444" stroke-width="0.8"/>
<rect x="477.64" y="315.02" width="14.6" height="47.48" fill="#00befc" stroke="#444" stroke-width="0.8"/>
<text x="308.96" y="245.1" font-size="7.2" text-anchor="start" fill="#000" stroke="#000" stroke-width="0.08" textLength="19" lengthAdjust="spacingAndGlyphs">31.14%</text>
<text x="308.96" y="322.2" font-size="7.2" text-anchor="start" fill="#000" stroke="#000" stroke-width="0.08" textLength="19" lengthAdjust="spacingAndGlyphs">68.86%</text>
<text x="330.07" y="238.6" font-size="7.2" text-anchor="start" fill="#000" stroke="#000" stroke-width="0.08" textLength="19" lengthAdjust="spacingAndGlyphs">27.33%</text>
<text x="330.07" y="302.3" font-size="7.2" text-anchor="start" fill="#000" stroke="#000" stroke-width="0.08" textLength="19" lengthAdjust="spacingAndGlyphs">72.67%</text>
<text x="351.18" y="226.4" font-size="7.2" text-anchor="start" fill="#000" stroke="#000" stroke-width="0.08" textLength="19" lengthAdjust="spacingAndGlyphs">17.75%</text>
<text x="351.18" y="293.7" font-size="7.2" text-anchor="start" fill="#000" stroke="#000" stroke-width="0.08" textLength="19" lengthAdjust="spacingAndGlyphs">82.25%</text>
<text x="372.29" y="267.3" font-size="7.2" text-anchor="start" fill="#000" stroke="#000" stroke-width="0.08" textLength="19" lengthAdjust="spacingAndGlyphs">58.80%</text>
<text x="372.29" y="342.2" font-size="7.2" text-anchor="start" fill="#000" stroke="#000" stroke-width="0.08" textLength="19" lengthAdjust="spacingAndGlyphs">41.20%</text>
<text x="393.4" y="249.3" font-size="7.2" text-anchor="start" fill="#000" stroke="#000" stroke-width="0.08" textLength="19" lengthAdjust="spacingAndGlyphs">34.26%</text>
<text x="393.4" y="307.6" font-size="7.2" text-anchor="start" fill="#000" stroke="#000" stroke-width="0.08" textLength="19" lengthAdjust="spacingAndGlyphs">65.74%</text>
<text x="414.51" y="246.7" font-size="7.2" text-anchor="start" fill="#000" stroke="#000" stroke-width="0.08" textLength="19" lengthAdjust="spacingAndGlyphs">34.12%</text>
<text x="414.51" y="324.1" font-size="7.2" text-anchor="start" fill="#000" stroke="#000" stroke-width="0.08" textLength="19" lengthAdjust="spacingAndGlyphs">65.88%</text>
<text x="435.62" y="233.8" font-size="7.2" text-anchor="start" fill="#000" stroke="#000" stroke-width="0.08" textLength="19" lengthAdjust="spacingAndGlyphs">34.58%</text>
<text x="435.62" y="308.7" font-size="7.2" text-anchor="start" fill="#000" stroke="#000" stroke-width="0.08" textLength="19" lengthAdjust="spacingAndGlyphs">65.42%</text>
<text x="456.73" y="278.3" font-size="7.2" text-anchor="start" fill="#000" stroke="#000" stroke-width="0.08" textLength="19" lengthAdjust="spacingAndGlyphs">78.86%</text>
<text x="456.73" y="354.3" font-size="7.2" text-anchor="start" fill="#000" stroke="#000" stroke-width="0.08" textLength="19" lengthAdjust="spacingAndGlyphs">21.14%</text>
<text x="477.84" y="260.3" font-size="7.2" text-anchor="start" fill="#000" stroke="#000" stroke-width="0.08" textLength="19" lengthAdjust="spacingAndGlyphs">68.76%</text>
<text x="477.84" y="337.1" font-size="7.2" text-anchor="start" fill="#000" stroke="#000" stroke-width="0.08" textLength="19" lengthAdjust="spacingAndGlyphs">31.24%</text>
<path d="M305.5 210.5V362.5H495.5V210.5" fill="none" stroke="#444" stroke-width="1"/>
<line x1="305" y1="210.5" x2="496" y2="210.5" stroke="#7a7a7a" stroke-width="1"/>
<line x1="305.5" y1="362.5" x2="308" y2="362.5" stroke="#3c3c3c" stroke-width="1"/>
<text x="302" y="365.1" font-size="9.2" text-anchor="end" fill="#1a1a1a" stroke="#1a1a1a" stroke-width="0.12" textLength="11.5" lengthAdjust="spacingAndGlyphs">0%</text>
<line x1="305.5" y1="332.1" x2="308" y2="332.1" stroke="#3c3c3c" stroke-width="1"/>
<text x="302" y="334.7" font-size="9.2" text-anchor="end" fill="#1a1a1a" stroke="#1a1a1a" stroke-width="0.12" textLength="15.8" lengthAdjust="spacingAndGlyphs">20%</text>
<line x1="305.5" y1="301.7" x2="308" y2="301.7" stroke="#3c3c3c" stroke-width="1"/>
<text x="302" y="304.3" font-size="9.2" text-anchor="end" fill="#1a1a1a" stroke="#1a1a1a" stroke-width="0.12" textLength="15.8" lengthAdjust="spacingAndGlyphs">40%</text>
<line x1="305.5" y1="271.3" x2="308" y2="271.3" stroke="#3c3c3c" stroke-width="1"/>
<text x="302" y="273.9" font-size="9.2" text-anchor="end" fill="#1a1a1a" stroke="#1a1a1a" stroke-width="0.12" textLength="15.8" lengthAdjust="spacingAndGlyphs">60%</text>
<line x1="305.5" y1="240.9" x2="308" y2="240.9" stroke="#3c3c3c" stroke-width="1"/>
<text x="302" y="243.5" font-size="9.2" text-anchor="end" fill="#1a1a1a" stroke="#1a1a1a" stroke-width="0.12" textLength="15.8" lengthAdjust="spacingAndGlyphs">80%</text>
<line x1="305.5" y1="210.5" x2="308" y2="210.5" stroke="#3c3c3c" stroke-width="1"/>
<text x="302" y="213.1" font-size="9.2" text-anchor="end" fill="#1a1a1a" stroke="#1a1a1a" stroke-width="0.12" textLength="20.1" lengthAdjust="spacingAndGlyphs">100%</text>
<line x1="305.5" y1="347.3" x2="307" y2="347.3" stroke="#3c3c3c" stroke-width="1"/>
<line x1="305.5" y1="316.9" x2="307" y2="316.9" stroke="#3c3c3c" stroke-width="1"/>
<line x1="305.5" y1="286.5" x2="307" y2="286.5" stroke="#3c3c3c" stroke-width="1"/>
<line x1="305.5" y1="256.1" x2="307" y2="256.1" stroke="#3c3c3c" stroke-width="1"/>
<line x1="305.5" y1="225.7" x2="307" y2="225.7" stroke="#3c3c3c" stroke-width="1"/>
<line x1="316.06" y1="362.5" x2="316.06" y2="360" stroke="#3c3c3c" stroke-width="1"/>
<line x1="337.17" y1="362.5" x2="337.17" y2="360" stroke="#3c3c3c" stroke-width="1"/>
<line x1="358.28" y1="362.5" x2="358.28" y2="360" stroke="#3c3c3c" stroke-width="1"/>
<line x1="379.39" y1="362.5" x2="379.39" y2="360" stroke="#3c3c3c" stroke-width="1"/>
<line x1="400.5" y1="362.5" x2="400.5" y2="360" stroke="#3c3c3c" stroke-width="1"/>
<line x1="421.61" y1="362.5" x2="421.61" y2="360" stroke="#3c3c3c" stroke-width="1"/>
<line x1="442.72" y1="362.5" x2="442.72" y2="360" stroke="#3c3c3c" stroke-width="1"/>
<line x1="463.83" y1="362.5" x2="463.83" y2="360" stroke="#3c3c3c" stroke-width="1"/>
<line x1="484.94" y1="362.5" x2="484.94" y2="360" stroke="#3c3c3c" stroke-width="1"/>
<text x="306.9" y="372.3" font-size="7.8" text-anchor="start" fill="#222" stroke="#222" stroke-width="0.12" textLength="18.4" lengthAdjust="spacingAndGlyphs">LRBs</text>
<text x="327.1" y="372.3" font-size="7.8" text-anchor="start" fill="#222" stroke="#222" stroke-width="0.12" textLength="21" lengthAdjust="spacingAndGlyphs">MRBs</text>
<text x="349.1" y="372.3" font-size="7.8" text-anchor="start" fill="#222" stroke="#222" stroke-width="0.12" textLength="20" lengthAdjust="spacingAndGlyphs">HRBs</text>
<text x="369.9" y="372.3" font-size="7.8" text-anchor="start" fill="#222" stroke="#222" stroke-width="0.12" textLength="21.2" lengthAdjust="spacingAndGlyphs">MCBs</text>
<text x="392.1" y="372.3" font-size="7.8" text-anchor="start" fill="#222" stroke="#222" stroke-width="0.12" textLength="20" lengthAdjust="spacingAndGlyphs">HCBs</text>
<text x="411.1" y="372.3" font-size="7.8" text-anchor="start" fill="#222" stroke="#222" stroke-width="0.12" textLength="22" lengthAdjust="spacingAndGlyphs">MPSBs</text>
<text x="432.4" y="372.3" font-size="7.8" text-anchor="start" fill="#222" stroke="#222" stroke-width="0.12" textLength="25.2" lengthAdjust="spacingAndGlyphs">HPSBs</text>
<text x="459.2" y="372.3" font-size="7.8" text-anchor="start" fill="#222" stroke="#222" stroke-width="0.12" textLength="15.9" lengthAdjust="spacingAndGlyphs">LIBs</text>
<text x="479.9" y="372.3" font-size="7.8" text-anchor="start" fill="#222" stroke="#222" stroke-width="0.12" textLength="18" lengthAdjust="spacingAndGlyphs">MIBs</text>
<rect x="423.2" y="198.6" width="71.3" height="9.5" fill="#fff" stroke="#bbb" stroke-width="0.7"/>
<rect x="424.4" y="200.1" width="16" height="7.3" fill="#ff78c8" stroke="#444" stroke-width="0.6"/>
<text x="442" y="206" font-size="7" text-anchor="start" fill="#1a1a1a" textLength="13" lengthAdjust="spacingAndGlyphs">Roof</text>
<rect x="457.1" y="200.1" width="16" height="7.3" fill="#00befc" stroke="#444" stroke-width="0.6"/>
<text x="474.9" y="206" font-size="7" text-anchor="start" fill="#1a1a1a" textLength="17.9" lengthAdjust="spacingAndGlyphs">Facade</text>
<text x="262.6" y="392.9" font-size="10.7" text-anchor="start" fill="#222" textLength="271" lengthAdjust="spacingAndGlyphs">(d) The proportion of&#160; roof and facade SRI of 9 types of block</text>
<text x="25.3" y="417.8" font-size="10.4" text-anchor="start" fill="#111" textLength="136.7" lengthAdjust="spacingAndGlyphs">LRBs:&#160; low-rise residential blocks</text>
<text x="209.3" y="417.8" font-size="10.4" text-anchor="start" fill="#111" textLength="155.6" lengthAdjust="spacingAndGlyphs">MRBs: multi-storey residential blocks</text>
<text x="386.2" y="417.8" font-size="10.4" text-anchor="start" fill="#111" textLength="139.8" lengthAdjust="spacingAndGlyphs">HRBs: high-rise residential blocks</text>
<text x="25.3" y="429" font-size="10.4" text-anchor="start" fill="#111" textLength="168.5" lengthAdjust="spacingAndGlyphs">MPSBs: multi-storey public service block</text>
<text x="211.2" y="429" font-size="10.4" text-anchor="start" fill="#111" textLength="157.8" lengthAdjust="spacingAndGlyphs">HPSBs: high-rise public service blocks</text>
<text x="388" y="429" font-size="10.4" text-anchor="start" fill="#111" textLength="159.5" lengthAdjust="spacingAndGlyphs">MCBs: multi-storey commercial blocks</text>
<text x="25.3" y="440.1" font-size="10.4" text-anchor="start" fill="#111" textLength="145" lengthAdjust="spacingAndGlyphs">HCBs: high-rise commercial blocks</text>
<text x="210.5" y="440.1" font-size="10.4" text-anchor="start" fill="#111" textLength="123.9" lengthAdjust="spacingAndGlyphs">LIBs: low-rise industrial block</text>
<text x="388.9" y="440.1" font-size="10.4" text-anchor="start" fill="#111" textLength="149.2" lengthAdjust="spacingAndGlyphs">MIBs: multi-storey industrial blocks</text>
</svg></body></html>
